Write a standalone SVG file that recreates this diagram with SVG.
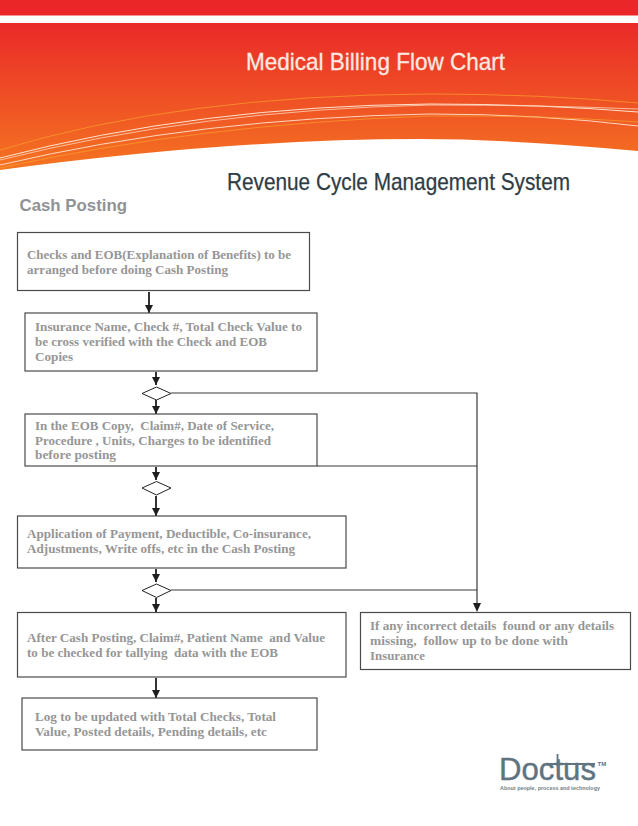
<svg xmlns="http://www.w3.org/2000/svg" width="638" height="826" viewBox="0 0 638 826">
<style>
.box{fill:#fff;stroke:#4a4a4a;stroke-width:1.2}
.t{font-family:"Liberation Serif",serif;font-weight:bold;font-size:13px;fill:#969696;white-space:pre}
.h{font-family:"Liberation Sans",Arial,sans-serif}
.c{fill:none;stroke:#3a3a3a;stroke-width:1.2}
.a{fill:none;stroke:#1e1e1e;stroke-width:1.8;marker-end:url(#ah)}
.d{fill:#fff;stroke:#222;stroke-width:1}
</style>
<defs>
<linearGradient id="g" x1="0" y1="0" x2="0" y2="1"><stop offset="0" stop-color="#ea2a29"/><stop offset="1" stop-color="#f47421"/></linearGradient>
<marker id="ah" markerUnits="userSpaceOnUse" markerWidth="9" markerHeight="9" refX="8" refY="4" orient="auto"><path d="M0 0L8 4L0 8z" fill="#1e1e1e"/></marker>
</defs>
<rect width="638" height="826" fill="#fff"/>
<g id="header">
<rect width="638" height="15.500" fill="#ea2629"/>
<path d="M0 23H638V151Q510 139 420 139Q230 139 0 170z" fill="url(#g)"/>
<g fill="none" stroke-linecap="round">
<path d="M0 150Q180 95 430 94Q540 94 638 103" stroke="#f9a02c" stroke-width=".7"/>
<path d="M0 158Q200 106 430 104Q540 104 638 112" stroke="#fde3d0" stroke-width="1"/>
<path d="M0 160Q200 110 430 105Q540 105 638 109" stroke="#fbd5bd" stroke-width=".8"/>
<path d="M0 165Q200 118 430 114Q540 114 638 126" stroke="#fde3d0" stroke-width=".9"/>
<path d="M0 168Q200 124 430 116Q540 115 638 122" stroke="#f9a02c" stroke-width=".7"/>
</g>
<text class="h" x="246" y="70" font-size="24" fill="#fbe9e0" stroke="#fbe9e0" stroke-width=".3" textLength="259" lengthAdjust="spacingAndGlyphs">Medical Billing Flow Chart</text>
<text class="h" x="227" y="190" font-size="24" fill="#2f3c45" stroke="#2f3c45" stroke-width=".25" textLength="343" lengthAdjust="spacingAndGlyphs">Revenue Cycle Management System</text>
<text class="h" x="19.500" y="211" font-size="17" font-weight="bold" fill="#8f9396" textLength="107.500" lengthAdjust="spacingAndGlyphs">Cash Posting</text>
</g>
<g id="connectors">
<path class="c" d="M171 393H477V604"/>
<path class="c" d="M317 466H477"/>
<path class="c" d="M171 590H477"/>
<path d="M477 612l-4 -9h8z" fill="#1e1e1e"/>
<path class="a" d="M149 292V313"/>
<path class="a" d="M156 372V385"/>
<path class="a" d="M156 400V414"/>
<path class="a" d="M156 467V480"/>
<path class="a" d="M156 496V516"/>
<path class="a" d="M156 569V582"/>
<path class="a" d="M156 598V612"/>
<path class="a" d="M156 678V698"/>
</g>
<g id="n1"><rect class="box" x="17.500" y="232.500" width="292" height="58"/>
<text class="t" x="27" y="259" textLength="264" lengthAdjust="spacingAndGlyphs">Checks and EOB(Explanation of Benefits) to be</text><text class="t" x="27" y="273.500" textLength="201" lengthAdjust="spacingAndGlyphs">arranged before doing Cash Posting</text></g>
<g id="n2"><rect class="box" x="25" y="313" width="292" height="58"/>
<text class="t" x="35" y="331" textLength="267" lengthAdjust="spacingAndGlyphs">Insurance Name, Check #, Total Check Value to</text><text class="t" x="35" y="346" textLength="232" lengthAdjust="spacingAndGlyphs">be cross verified with the Check and EOB</text><text class="t" x="35" y="361" textLength="38" lengthAdjust="spacingAndGlyphs">Copies</text></g>
<g id="d1"><path class="d" d="M142 393.500L156.500 387L171 393.500L156.500 400z"/></g>
<g id="n3"><rect class="box" x="25" y="414" width="292" height="52"/>
<text class="t" x="35" y="430" textLength="239" lengthAdjust="spacingAndGlyphs">In the EOB Copy,  Claim#, Date of Service,</text><text class="t" x="35" y="444.500" textLength="236" lengthAdjust="spacingAndGlyphs">Procedure , Units, Charges to be identified</text><text class="t" x="35" y="459" textLength="81" lengthAdjust="spacingAndGlyphs">before posting</text></g>
<g id="d2"><path class="d" d="M142 488L156.500 481.500L171 488L156.500 495z"/></g>
<g id="n4"><rect class="box" x="17.500" y="516" width="328.500" height="52"/>
<text class="t" x="27" y="538" textLength="284" lengthAdjust="spacingAndGlyphs">Application of Payment, Deductible, Co-insurance,</text><text class="t" x="27" y="553" textLength="268" lengthAdjust="spacingAndGlyphs">Adjustments, Write offs, etc in the Cash Posting</text></g>
<g id="d3"><path class="d" d="M142 590.500L156.500 584L171 590.500L156.500 597.500z"/></g>
<g id="n5"><rect class="box" x="17.500" y="612.500" width="328.500" height="64.500"/>
<text class="t" x="27" y="642" textLength="298" lengthAdjust="spacingAndGlyphs">After Cash Posting, Claim#, Patient Name  and Value</text><text class="t" x="27" y="657" textLength="251" lengthAdjust="spacingAndGlyphs">to be checked for tallying  data with the EOB</text></g>
<g id="n6"><rect class="box" x="360.500" y="612.500" width="270" height="57"/>
<text class="t" x="370" y="630" textLength="244" lengthAdjust="spacingAndGlyphs">If any incorrect details  found or any details</text><text class="t" x="370" y="645" textLength="198" lengthAdjust="spacingAndGlyphs">missing,  follow up to be done with</text><text class="t" x="370" y="660" textLength="55" lengthAdjust="spacingAndGlyphs">Insurance</text></g>
<g id="n7"><rect class="box" x="22" y="698" width="295" height="52"/>
<text class="t" x="35" y="721" textLength="241" lengthAdjust="spacingAndGlyphs">Log to be updated with Total Checks, Total</text><text class="t" x="35" y="736" textLength="232" lengthAdjust="spacingAndGlyphs">Value, Posted details, Pending details, etc</text></g>
<g id="logo">
<text class="h" x="499" y="780" font-size="31" fill="#5f7480" stroke="#5f7480" stroke-width=".4" textLength="97" lengthAdjust="spacingAndGlyphs">Doctus</text>
<path d="M548 764H595M557.500 754V766" fill="none" stroke="#5f7480" stroke-width="1.800"/>
<text class="h" x="597.500" y="766" font-size="6" font-weight="bold" fill="#5f7480">TM</text>
<text class="h" x="500" y="789.500" font-size="5.500" font-weight="bold" fill="#6f7f88" textLength="100" lengthAdjust="spacingAndGlyphs">About people, process and technology</text>
</g>
</svg>
